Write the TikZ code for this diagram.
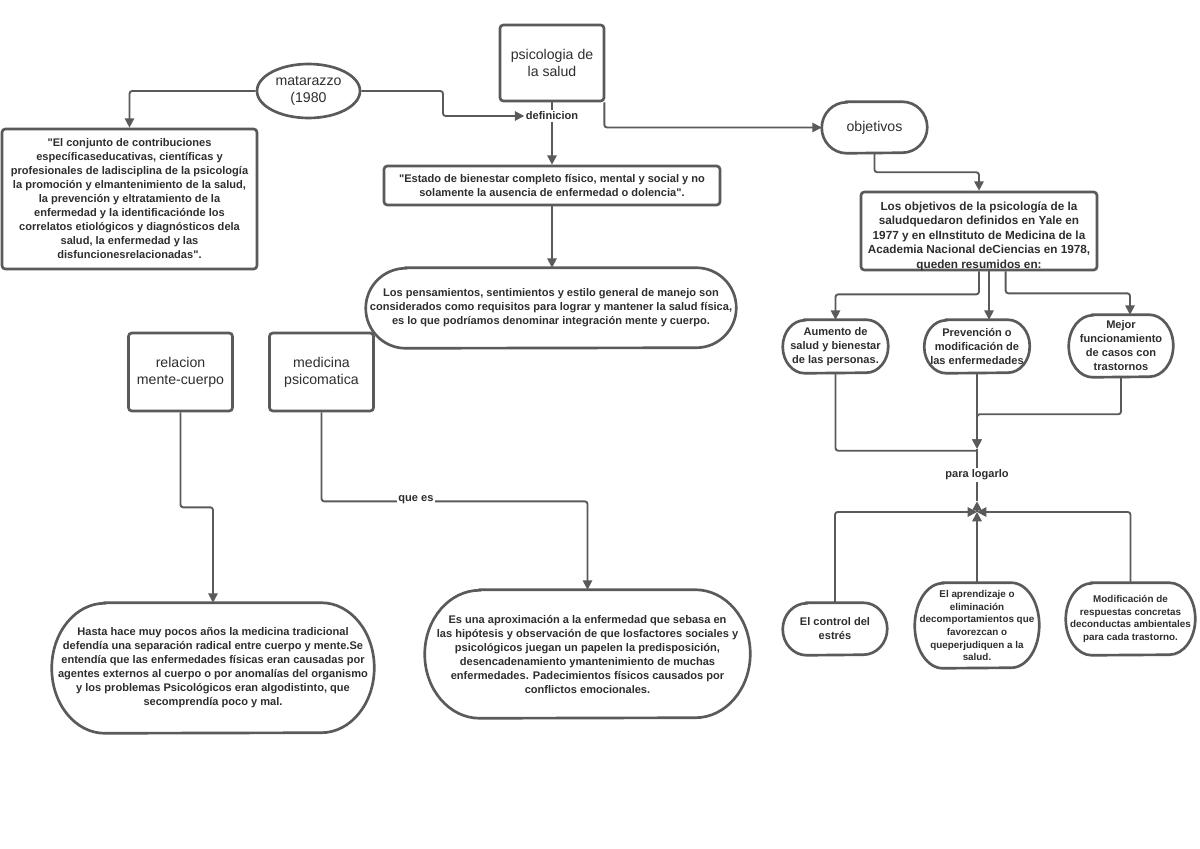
\documentclass[tikz,border=0pt]{standalone}
\usepackage{fontspec}
\setmainfont{Liberation Sans}[Ligatures=TeXOff]
\usetikzlibrary{arrows.meta,calc,shapes.geometric}
\pgfdeclarelayer{back}
\pgfsetlayers{back,main}
\definecolor{ln}{HTML}{5A5A5A}
\definecolor{tx}{HTML}{2E2E2E}
\tikzset{
  border/.style={draw=ln, line width=2pt},
  conn/.style={draw=ln, line width=1.4pt, rounded corners=2pt},
  arr/.style={conn, -{Triangle[length=7pt,width=7pt]}},
  box/.style={border, rounded corners=2.5pt, inner sep=0pt, align=center, text=tx},
  plain/.style={inner sep=0pt, align=center, text=tx},
  title/.style={font=\fontsize{10.6}{12.8}\selectfont},
  body/.style={font=\bfseries\fontsize{8.3}{10.5}\selectfont},
  bodyb/.style={font=\bfseries\fontsize{8.8}{10.9}\selectfont},
  small/.style={font=\bfseries\fontsize{7.4}{9.5}\selectfont},
  lbl/.style={font=\bfseries\fontsize{8.3}{10}\selectfont, fill=white, inner sep=1pt, text=tx},
  sz/.style 2 args={minimum width=#1*0.75pt, minimum height=#2*0.75pt},
}
\newcommand\mystad[3]{%
  \draw[border] ($(#1.north west)+(#2,0)$) -- ($(#1.north east)+(-#2,0)$)
    arc[start angle=90,end angle=-90,x radius=#2,y radius=#3]
    -- ($(#1.south west)+(#2,0)$)
    arc[start angle=270,end angle=90,x radius=#2,y radius=#3] -- cycle;}
\newcommand\dq{\char34\relax}
\begin{document}
\begin{tikzpicture}[x=0.75pt,y=0.75pt]
\begin{pgfonlayer}{back}
\fill[white] (0,0) rectangle (1200,-849);
\end{pgfonlayer}
\useasboundingbox (0,0) rectangle (1200,-849);

% ---------- nodes ----------
\node[box,title,sz={104}{76}] (psi) at (552,-63) {psicologia de\\la salud};
\node[draw=ln,line width=2pt,ellipse,inner sep=0pt,text=tx,align=center,title,sz={103}{54}] (mat) at (308.5,-91) {matarazzo\\(1980};
\node[box,body,sz={255}{140}] (conj) at (129.5,-199) {\dq El conjunto de contribuciones\\específicaseducativas, científicas y\\profesionales de ladisciplina de la psicología\\la promoción y elmantenimiento de la salud,\\la prevención y eltratamiento de la\\enfermedad y la identificaciónde los\\correlatos etiológicos y diagnósticos dela\\salud, la enfermedad y las\\disfuncionesrelacionadas\dq.};
\node[lbl] (def) at (552,-116) {definicion};
\node[box,body,sz={336}{39}] (estado) at (552,-185.5) {\dq Estado de bienestar completo físico, mental y social y no\\solamente la ausencia de enfermedad o dolencia\dq.};
\node[plain,body,sz={370}{80}] (pens) at (551,-308) {Los pensamientos, sentimientos y estilo general de manejo son\\considerados como requisitos para lograr y mantener la salud física,\\es lo que podríamos denominar integración mente y cuerpo.};
\mystad{pens}{40}{40}

\node[plain,title,sz={105}{51}] (obj) at (874.5,-127.5) {objetivos};
\mystad{obj}{25}{25.5}
\node[box,sz={236}{78}] (objbox) at (979,-231) {};
\node[plain,bodyb] (objtxt) at (979,-236) {Los objetivos de la psicología de la\\saludquedaron definidos en Yale en\\1977 y en elInstituto de Medicina de la\\Academia Nacional deCiencias en 1978,\\queden resumidos en:};

\node[plain,body,sz={105}{53}] (aum) at (835.5,-346.5) {Aumento de\\salud y bienestar\\de las personas.};
\mystad{aum}{22}{26.5}
\node[plain,body,sz={105}{53}] (prev) at (977,-346.5) {Prevención o\\modificación de\\las enfermedades};
\mystad{prev}{22}{26.5}
\node[plain,body,sz={104}{62}] (mejor) at (1121,-346) {Mejor\\funcionamiento\\de casos con\\trastornos};
\mystad{mejor}{24}{31}

\node[lbl,fill=none,minimum height=52*0.75pt] (logro) at (977,-475) {para logarlo};
\coordinate (J) at (977,-512);

\node[plain,body,sz={104}{52}] (control) at (835,-629) {El control del\\estrés};
\mystad{control}{24}{26}
\node[plain,small,sz={124}{85}] (apren) at (977,-625.5) {El aprendizaje o\\eliminación\\decomportamientos que\\favorezcan o\\queperjudiquen a la\\salud.};
\mystad{apren}{28}{42.5}
\node[plain,small,sz={129}{72}] (modif) at (1130.5,-619) {Modificación de\\respuestas concretas\\deconductas ambientales\\para cada trastorno.};
\mystad{modif}{26}{36}

\node[box,title,sz={104}{78}] (rel) at (180.5,-372) {relacion\\mente-cuerpo};
\node[box,title,sz={104}{78}] (med) at (321.5,-372) {medicina\\psicomatica};

\node[plain,body,sz={322}{130}] (hasta) at (213,-668) {Hasta hace muy pocos años la medicina tradicional\\defendía una separación radical entre cuerpo y mente.Se\\entendía que las enfermedades físicas eran causadas por\\agentes externos al cuerpo o por anomalías del organismo\\y los problemas Psicológicos eran algodistinto, que\\secomprendía poco y mal.};
\mystad{hasta}{53}{65}
\node[plain,body,sz={325}{128}] (esuna) at (587.5,-654) {Es una aproximación a la enfermedad que sebasa en\\las hipótesis y observación de que losfactores sociales y\\psicológicos juegan un papelen la predisposición,\\desencadenamiento ymantenimiento de muchas\\enfermedades. Padecimientos físicos causados por\\conflictos emocionales.};
\mystad{esuna}{55}{64}

% ---------- connectors ----------
\draw[arr] (mat.west) -| (conj.north);
\draw[arr] (mat.east) -- (443,-91) |- (def.west);
\draw[conn] (psi.south) -- (def.north);
\draw[arr] (def.south) -- (def.south |- estado.north);
\draw[arr] ([xshift=-0.75pt]psi.south east) |- (obj.west);
\draw[arr] (estado.south) -- (estado.south |- pens.north);

\draw[arr] (obj.south) -- ++(0,-19) -| (objbox.north);
\draw[arr] (objbox.south) -- ++(0,-23) -| (aum.north);
\draw[arr] ([xshift=7.5pt]objbox.south) -- ([xshift=7.5pt]objbox.south |- prev.north);
\draw[arr] ([xshift=20pt]objbox.south) -- ++(0,-22) -| ([xshift=6.75pt]mejor.north);

\begin{pgfonlayer}{back}
\draw[conn] (logro.north) -- (logro.south);
\fill[white] ($(logro.center)+(-36,-7)$) rectangle ($(logro.center)+(36,7)$);
\end{pgfonlayer}
\draw[arr] (prev.south) -- (logro.north);
\draw[arr] (mejor.south) -- ++(0,-37) -| (logro.north);
\draw[conn] (aum.south) |- ([yshift=-1.5pt]logro.north);

\draw[arr] (control.north) |- (J);
\draw[arr] (modif.north) |- (J);
\draw[arr] (apren.north) -- (J);
\draw[arr] (J) -- (logro.south);

\draw[arr] (rel.south) -- ++(0,-95) -| (hasta.north);
\draw[arr] (med.south) -- ++(0,-89) -| (esuna.north);
\node[lbl] (qes) at (416,-500) {que es};
\end{tikzpicture}
\end{document}
